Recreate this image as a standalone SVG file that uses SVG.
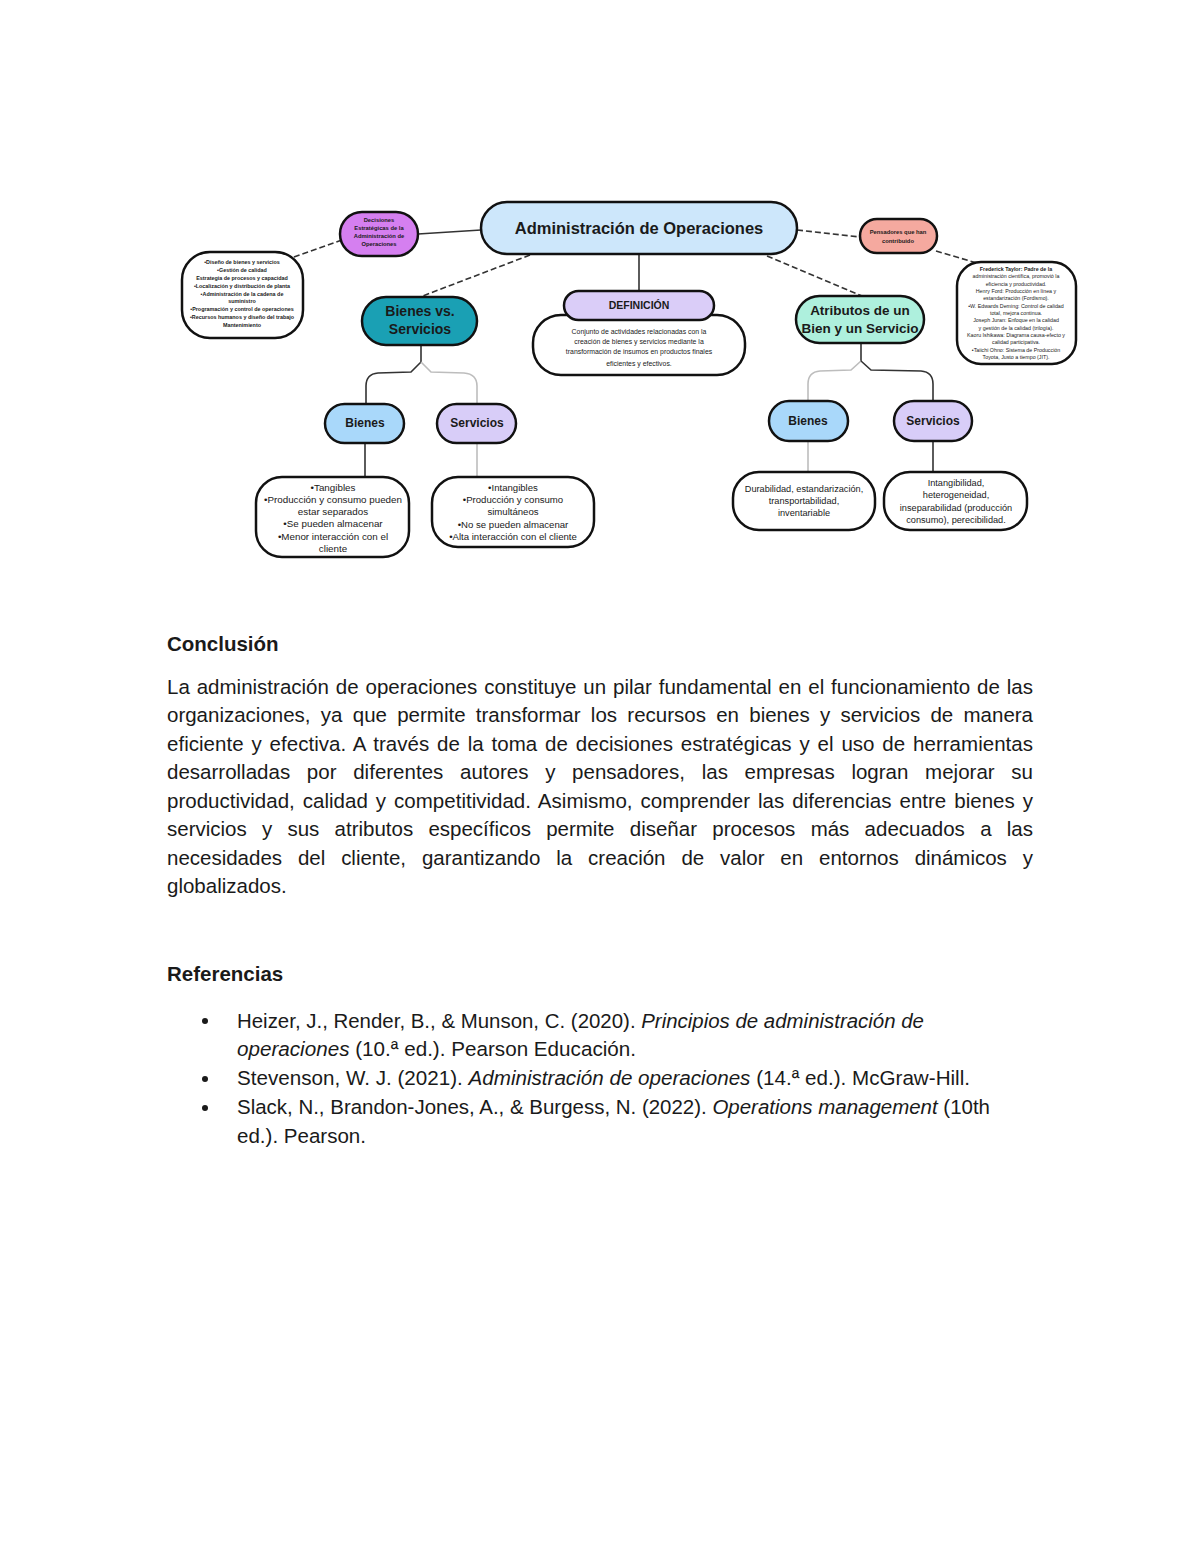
<svg xmlns="http://www.w3.org/2000/svg" width="1200" height="1553" viewBox="0 0 1200 1553">
<style>
.n{stroke:#111;stroke-width:2.5}
.w{fill:#fff}
.t{font-family:"Liberation Sans",Arial,sans-serif;fill:#1a1a1a;text-anchor:middle}
.b{font-weight:bold}
.c{stroke:#333;stroke-width:1.6;fill:none}
.d{stroke:#333;stroke-width:1.6;fill:none;stroke-dasharray:6 3}
.g{stroke:#bdbdbd;stroke-width:1.6;fill:none}
.p{font-family:"Liberation Sans",Arial,sans-serif;fill:#1a1a1a;font-size:20.5px}
</style>
<rect width="1200" height="1553" fill="#fff"/>
<g id="connectors">
<path class="c" d="M418,234 L481,230"/>
<path class="d" d="M342,240 L288,259"/>
<path class="d" d="M797,230 L860,237"/>
<path class="d" d="M936,251 L987,266"/>
<path class="d" d="M530,255 L420,297"/>
<path class="c" d="M639,254 L639,291"/>
<path class="d" d="M767,256 L862,296"/>
<path class="c" d="M421,345 L421,362 L411,372 L378,373 Q366,374 366,386 L366,404"/>
<path class="g" d="M421,362 L431,372 L464,373 Q477,374 477,386 L477,404"/>
<path class="c" d="M365,443 L365,478"/>
<path class="g" d="M477,443 L477,478"/>
<path class="c" d="M861,343 L861,361"/>
<path class="g" d="M861,361 L851,370 L820,371 Q808,372 808,384 L808,401"/>
<path class="c" d="M861,361 L871,370 L921,371 Q933,372 933,384 L933,401"/>
<path class="g" d="M808,441 L808,473"/>
<path class="c" d="M933,441 L933,473"/>
</g>
<g id="main">
<rect class="n" x="481" y="202" width="316" height="52" rx="26" fill="#cde7fb"/>
<text class="t b" x="639" y="234" font-size="16.5" fill="#1f2a38">Administración de Operaciones</text>
</g>
<g id="decisiones">
<rect class="n" x="340" y="212" width="78" height="44" rx="22" fill="#d57ff0"/>
<text class="t b" font-size="5.8" x="379"><tspan x="379" y="222">Decisiones</tspan><tspan x="379" y="230">Estratégicas de la</tspan><tspan x="379" y="238">Administración de</tspan><tspan x="379" y="246">Operaciones</tspan></text>
</g>
<g id="decisiones-lista">
<rect class="n w" x="182" y="252" width="121" height="86" rx="28"/>
<text class="t b" font-size="5.4"><tspan x="242" y="264">•Diseño de bienes y servicios</tspan><tspan x="242" y="272">•Gestión de calidad</tspan><tspan x="242" y="280">Estrategia de procesos y capacidad</tspan><tspan x="242" y="288">•Localización y distribución de planta</tspan><tspan x="242" y="296">•Administración de la cadena de</tspan><tspan x="242" y="303">suministro</tspan><tspan x="242" y="311">•Programación y control de operaciones</tspan><tspan x="242" y="319">•Recursos humanos y diseño del trabajo</tspan><tspan x="242" y="327">Mantenimiento</tspan></text>
</g>
<g id="pensadores">
<rect class="n" x="860" y="219" width="77" height="34" rx="17" fill="#f5a99f"/>
<text class="t b" font-size="5.8"><tspan x="898" y="234">Pensadores que han</tspan><tspan x="898" y="243">contribuido</tspan></text>
</g>
<g id="pensadores-lista">
<rect class="n w" x="957" y="262" width="119" height="102" rx="24"/>
<text class="t" font-size="5.3"><tspan x="1016" y="271" font-weight="bold">Frederick Taylor: Padre de la</tspan><tspan x="1016" y="278">administración científica, promovió la</tspan><tspan x="1016" y="286">eficiencia y productividad.</tspan><tspan x="1016" y="293">Henry Ford: Producción en línea y</tspan><tspan x="1016" y="300">estandarización (Fordismo).</tspan><tspan x="1016" y="308">•W. Edwards Deming: Control de calidad</tspan><tspan x="1016" y="315">total, mejora continua.</tspan><tspan x="1016" y="322">Joseph Juran: Enfoque en la calidad</tspan><tspan x="1016" y="330">y gestión de la calidad (trilogía).</tspan><tspan x="1016" y="337">Kaoru Ishikawa: Diagrama causa-efecto y</tspan><tspan x="1016" y="344">calidad participativa.</tspan><tspan x="1016" y="352">•Taiichi Ohno: Sistema de Producción</tspan><tspan x="1016" y="359">Toyota, Justo a tiempo (JIT).</tspan></text>
</g>
<g id="bienes-vs-servicios">
<rect class="n" x="362" y="297" width="115" height="48" rx="24" fill="#1aa0b4"/>
<text class="t b" font-size="14" fill="#0d2c36"><tspan x="420" y="316">Bienes vs.</tspan><tspan x="420" y="334">Servicios</tspan></text>
</g>
<g id="definicion-body">
<rect class="n w" x="533" y="315" width="212" height="60" rx="28"/>
<text class="t" font-size="6.9"><tspan x="639" y="334">Conjunto de actividades relacionadas con la</tspan><tspan x="639" y="344">creación de bienes y servicios mediante la</tspan><tspan x="639" y="354">transformación de insumos en productos finales</tspan><tspan x="639" y="366">eficientes y efectivos.</tspan></text>
</g>
<g id="definicion">
<rect class="n" x="564" y="291" width="150" height="29" rx="14.5" fill="#dacdf8"/>
<text class="t b" x="639" y="309" font-size="10.5">DEFINICIÓN</text>
</g>
<g id="atributos">
<rect class="n" x="796" y="296" width="128" height="47" rx="23.5" fill="#aef0dd"/>
<text class="t b" font-size="13.5" fill="#222"><tspan x="860" y="315">Atributos de un</tspan><tspan x="860" y="333">Bien y un Servicio</tspan></text>
</g>
<g id="bienes-izq">
<rect class="n" x="325" y="404" width="79" height="39" rx="19.5" fill="#a9d8fa"/>
<text class="t b" x="365" y="427" font-size="12">Bienes</text>
</g>
<g id="servicios-izq">
<rect class="n" x="437" y="404" width="79" height="39" rx="19.5" fill="#d8cdf8"/>
<text class="t b" x="477" y="427" font-size="12">Servicios</text>
</g>
<g id="bienes-izq-caract">
<rect class="n w" x="256" y="477" width="153" height="80" rx="26"/>
<text class="t" font-size="9.8"><tspan x="333" y="491">•Tangibles</tspan><tspan x="333" y="503">•Producción y consumo pueden</tspan><tspan x="333" y="515">estar separados</tspan><tspan x="333" y="527">•Se pueden almacenar</tspan><tspan x="333" y="540">•Menor interacción con el</tspan><tspan x="333" y="552">cliente</tspan></text>
</g>
<g id="servicios-izq-caract">
<rect class="n w" x="432" y="477" width="162" height="70" rx="26"/>
<text class="t" font-size="9.6"><tspan x="513" y="491">•Intangibles</tspan><tspan x="513" y="503">•Producción y consumo</tspan><tspan x="513" y="515">simultáneos</tspan><tspan x="513" y="528">•No se pueden almacenar</tspan><tspan x="513" y="540">•Alta interacción con el cliente</tspan></text>
</g>
<g id="bienes-der">
<rect class="n" x="769" y="401" width="79" height="40" rx="20" fill="#a9d8fa"/>
<text class="t b" x="808" y="425" font-size="12">Bienes</text>
</g>
<g id="servicios-der">
<rect class="n" x="894" y="401" width="78" height="40" rx="20" fill="#d8cdf8"/>
<text class="t b" x="933" y="425" font-size="12">Servicios</text>
</g>
<g id="bienes-der-caract">
<rect class="n w" x="733" y="472" width="142" height="58" rx="26"/>
<text class="t" font-size="9.2"><tspan x="804" y="492">Durabilidad, estandarización,</tspan><tspan x="804" y="504">transportabilidad,</tspan><tspan x="804" y="516">inventariable</tspan></text>
</g>
<g id="servicios-der-caract">
<rect class="n w" x="884" y="472" width="143" height="58" rx="26"/>
<text class="t" font-size="9.2"><tspan x="956" y="486">Intangibilidad,</tspan><tspan x="956" y="498">heterogeneidad,</tspan><tspan x="956" y="511">inseparabilidad (producción</tspan><tspan x="956" y="523">consumo), perecibilidad.</tspan></text>
</g>
<g id="texto">
<text class="p" x="167" y="651" font-weight="bold">Conclusión</text>
<text class="p" x="167" y="694" word-spacing="1.2" textLength="866" lengthAdjust="spacing">La administración de operaciones constituye un pilar fundamental en el funcionamiento de las</text>
<text class="p" x="167" y="722" word-spacing="4.6" textLength="866" lengthAdjust="spacing">organizaciones, ya que permite transformar los recursos en bienes y servicios de manera</text>
<text class="p" x="167" y="751" word-spacing="2.1" textLength="866" lengthAdjust="spacing">eficiente y efectiva. A través de la toma de decisiones estratégicas y el uso de herramientas</text>
<text class="p" x="167" y="779" word-spacing="11" textLength="866" lengthAdjust="spacing">desarrolladas por diferentes autores y pensadores, las empresas logran mejorar su</text>
<text class="p" x="167" y="808" word-spacing="2.3" textLength="866" lengthAdjust="spacing">productividad, calidad y competitividad. Asimismo, comprender las diferencias entre bienes y</text>
<text class="p" x="167" y="836" word-spacing="9.6" textLength="866" lengthAdjust="spacing">servicios y sus atributos específicos permite diseñar procesos más adecuados a las</text>
<text class="p" x="167" y="865" word-spacing="10.2" textLength="866" lengthAdjust="spacing">necesidades del cliente, garantizando la creación de valor en entornos dinámicos y</text>
<text class="p" x="167" y="893">globalizados.</text>
<text class="p" x="167" y="981" font-weight="bold">Referencias</text>
<circle cx="205" cy="1021" r="3" fill="#1a1a1a"/>
<circle cx="205" cy="1079" r="3" fill="#1a1a1a"/>
<circle cx="205" cy="1108" r="3" fill="#1a1a1a"/>
<text class="p" x="237" y="1028" textLength="687" lengthAdjust="spacingAndGlyphs">Heizer, J., Render, B., &amp; Munson, C. (2020). <tspan font-style="italic">Principios de administración de</tspan></text>
<text class="p" x="237" y="1056" textLength="399" lengthAdjust="spacingAndGlyphs"><tspan font-style="italic">operaciones</tspan> (10.ª ed.). Pearson Educación.</text>
<text class="p" x="237" y="1085" textLength="733" lengthAdjust="spacingAndGlyphs">Stevenson, W. J. (2021). <tspan font-style="italic">Administración de operaciones</tspan> (14.ª ed.). McGraw-Hill.</text>
<text class="p" x="237" y="1114" textLength="753" lengthAdjust="spacingAndGlyphs">Slack, N., Brandon-Jones, A., &amp; Burgess, N. (2022). <tspan font-style="italic">Operations management</tspan> (10th</text>
<text class="p" x="237" y="1143" textLength="129" lengthAdjust="spacingAndGlyphs">ed.). Pearson.</text>
</g>
</svg>
